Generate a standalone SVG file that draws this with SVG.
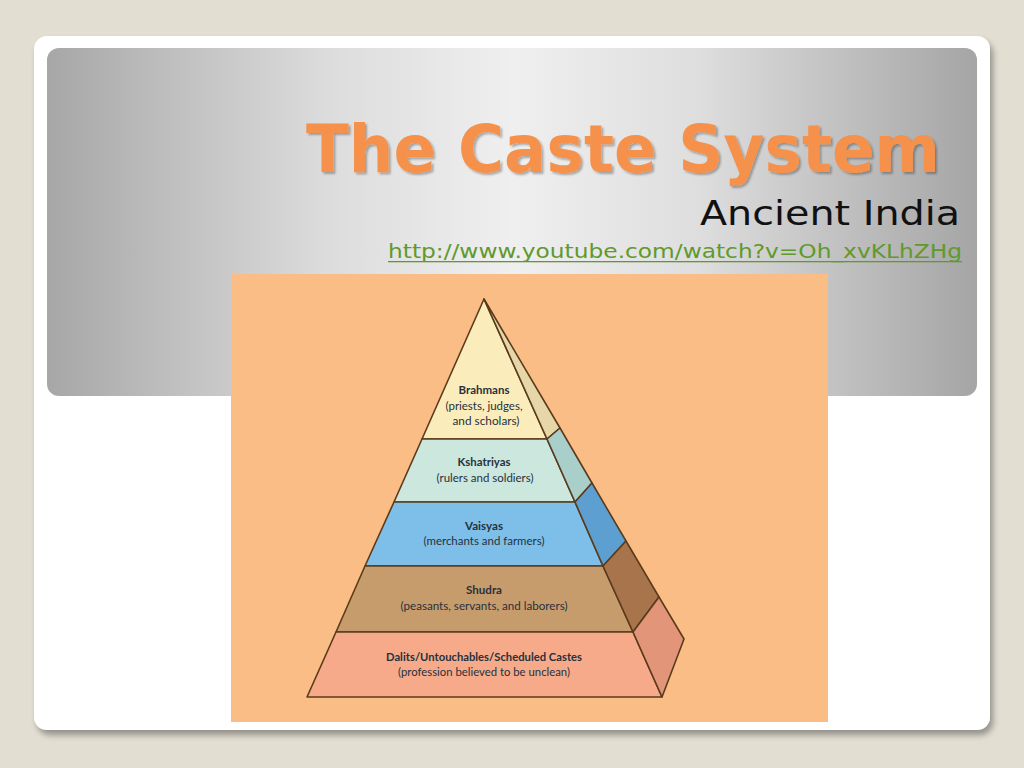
<svg xmlns="http://www.w3.org/2000/svg" width="1024" height="768" viewBox="0 0 1024 768">
<defs>
<linearGradient id="hdr" x1="0" y1="0" x2="1" y2="0">
<stop offset="0" stop-color="#a7a7a7"/>
<stop offset="0.3" stop-color="#dcdcdc"/>
<stop offset="0.5" stop-color="#efefef"/>
<stop offset="0.7" stop-color="#dedede"/>
<stop offset="1" stop-color="#a5a5a5"/>
</linearGradient>
<filter id="sh" x="-5%" y="-5%" width="110%" height="115%">
<feGaussianBlur in="SourceAlpha" stdDeviation="3"/>
<feOffset dx="3" dy="5"/>
<feComponentTransfer><feFuncA type="linear" slope="0.35"/></feComponentTransfer>
<feMerge><feMergeNode/><feMergeNode in="SourceGraphic"/></feMerge>
</filter>
<filter id="tsh" x="-5%" y="-10%" width="110%" height="130%">
<feGaussianBlur in="SourceAlpha" stdDeviation="1.2"/>
<feOffset dx="2" dy="2"/>
<feComponentTransfer><feFuncA type="linear" slope="0.3"/></feComponentTransfer>
<feMerge><feMergeNode/><feMergeNode in="SourceGraphic"/></feMerge>
</filter>
</defs>
<style>
.edge{stroke:#5a3b1c;stroke-width:1.6;stroke-linejoin:round}
.t{font-family:Lato,"Open Sans","Liberation Sans",sans-serif;fill:#27313c;text-anchor:middle}
.b{font-weight:bold;font-size:10.5px}
.s{font-size:10.5px}
</style>
<rect width="1024" height="768" fill="#e2ded2"/>
<rect x="34" y="36" width="956" height="694" rx="13" fill="#ffffff" filter="url(#sh)"/>
<rect x="47" y="48" width="930" height="348" rx="12" fill="url(#hdr)"/>

<g id="title">
<text x="306" y="172" font-family="DejaVu Sans,Verdana,sans-serif" font-weight="bold" font-size="66" fill="#f5914c" textLength="634" lengthAdjust="spacingAndGlyphs" filter="url(#tsh)">The Caste System</text>
</g>
<g id="subtitle">
<text x="960" y="225" font-family="DejaVu Sans,Verdana,sans-serif" font-size="33" fill="#111111" text-anchor="end" textLength="260" lengthAdjust="spacingAndGlyphs">Ancient India</text>
</g>
<g id="link">
<text x="388" y="258" font-family="DejaVu Sans,Verdana,sans-serif" font-size="19" fill="#5e9a2c" textLength="574" lengthAdjust="spacingAndGlyphs">http://www.youtube.com/watch?v=Oh_xvKLhZHg</text>
<rect x="388" y="261" width="574" height="1.3" fill="#5e9a2c"/>
</g>

<g id="picture">
<rect x="231" y="274" width="597" height="448" fill="#fbbd86"/>

<g id="brahmans">
<polygon class="edge" points="484,299 422,439 547,439" fill="#fbedbb"/>
<polygon class="edge" points="484,299 547,439 560,428" fill="#e6d6a8"/>
<text class="t b" x="484" y="394" textLength="51" lengthAdjust="spacingAndGlyphs">Brahmans</text>
<text class="t s" x="484" y="410" textLength="77" lengthAdjust="spacingAndGlyphs">(priests, judges,</text>
<text class="t s" x="486" y="425" textLength="67" lengthAdjust="spacingAndGlyphs">and scholars)</text>
</g>

<g id="kshatriyas">
<polygon class="edge" points="422,439 547,439 575,502 394,502" fill="#cbe7de"/>
<polygon class="edge" points="547,439 560,428 592,483 575,502" fill="#a9cfcb"/>
<text class="t b" x="484" y="466" textLength="53" lengthAdjust="spacingAndGlyphs">Kshatriyas</text>
<text class="t s" x="485" y="482" textLength="97" lengthAdjust="spacingAndGlyphs">(rulers and soldiers)</text>
</g>

<g id="vaisyas">
<polygon class="edge" points="394,502 575,502 603,566 365,566" fill="#7ebfea"/>
<polygon class="edge" points="575,502 592,483 626,541 603,566" fill="#5d9fd0"/>
<text class="t b" x="484" y="530" textLength="38" lengthAdjust="spacingAndGlyphs">Vaisyas</text>
<text class="t s" x="484" y="545" textLength="121" lengthAdjust="spacingAndGlyphs">(merchants and farmers)</text>
</g>

<g id="shudra">
<polygon class="edge" points="365,566 603,566 633,632 336,632" fill="#c79c6c"/>
<polygon class="edge" points="603,566 626,541 659,597 633,632" fill="#a8744b"/>
<text class="t b" x="484" y="594" textLength="36" lengthAdjust="spacingAndGlyphs">Shudra</text>
<text class="t s" x="484" y="610" textLength="167" lengthAdjust="spacingAndGlyphs">(peasants, servants, and laborers)</text>
</g>

<g id="dalits">
<polygon class="edge" points="336,632 633,632 662,697 307,697" fill="#f6aa8a"/>
<polygon class="edge" points="633,632 659,597 684,639 662,697" fill="#e29578"/>
<text class="t b" x="484" y="661" textLength="196" lengthAdjust="spacingAndGlyphs">Dalits/Untouchables/Scheduled Castes</text>
<text class="t s" x="484" y="676" textLength="172" lengthAdjust="spacingAndGlyphs">(profession believed to be unclean)</text>
</g>
</g>
</svg>
